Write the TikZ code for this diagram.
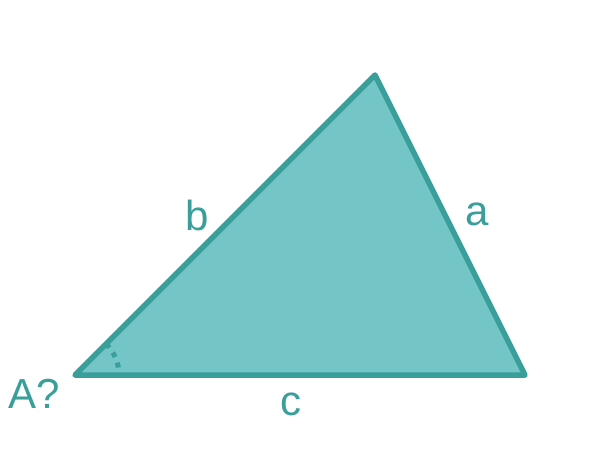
\documentclass[tikz,border=0pt]{standalone}
\usepackage{fontspec}
\setmainfont{Liberation Sans}
\definecolor{fillc}{HTML}{74C6C6}
\definecolor{linec}{HTML}{3A9E9A}
\begin{document}
\begin{tikzpicture}[x=1pt,y=-1pt,
  lbl/.style={text=linec,font=\fontsize{42}{50}\selectfont,inner sep=0pt}]
\useasboundingbox (0,0) rectangle (600,450);
\coordinate (A) at (75,375);
\coordinate (B) at (375,75);
\coordinate (C) at (525,375);
\fill[fillc] (A) -- (B) -- (C) -- cycle;
\draw[linec,line width=5pt,dash pattern=on 5pt off 6pt] ([shift={(45:44pt)}]A) arc[start angle=45,end angle=0,radius=44pt];
\draw[linec,line width=5.5pt,line join=round] (A) -- (B) -- (C) -- cycle;
\node[lbl] (la) at (34,394) {A?};
\node[lbl] (lb) at (197,215) {b};
\node[lbl] (lc) at (291,404) {c};
\node[lbl] (lA) at (477,214) {a};
\end{tikzpicture}
\end{document}
